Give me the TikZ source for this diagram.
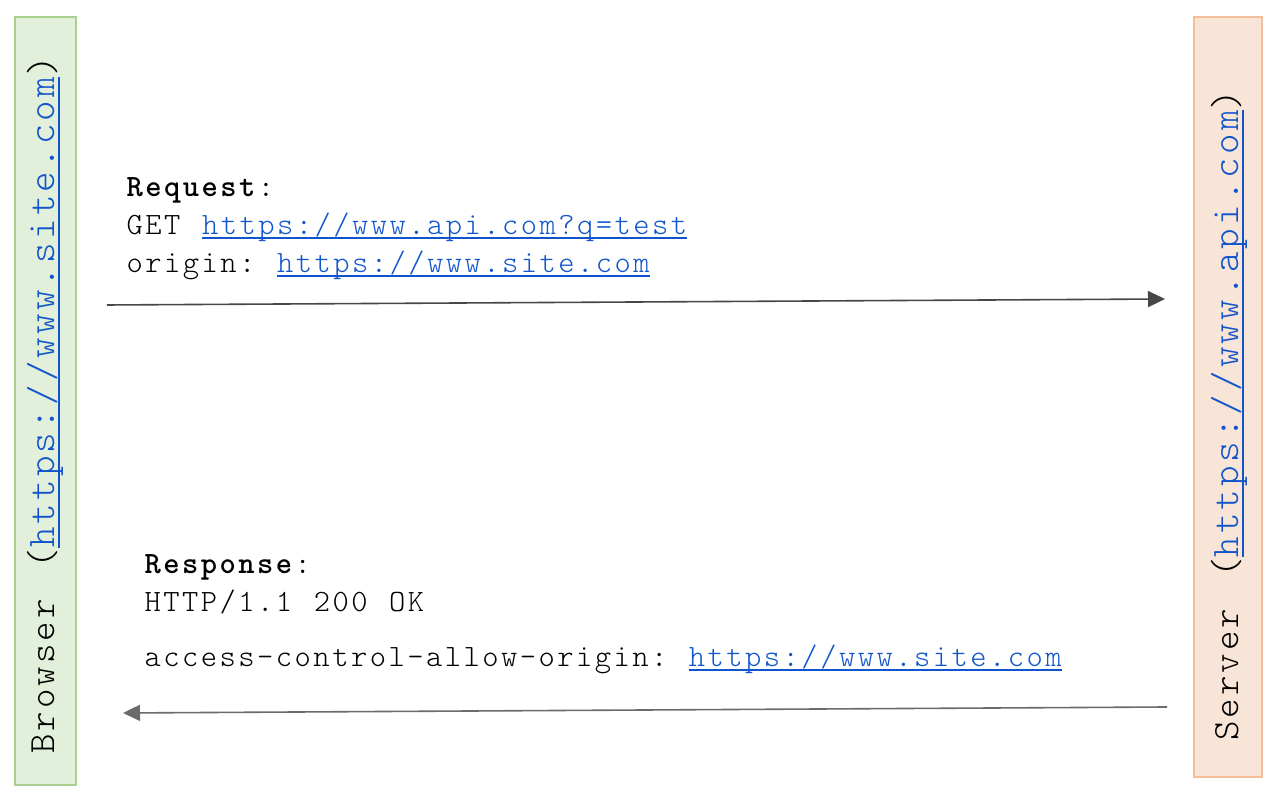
\documentclass[tikz,border=0pt]{standalone}
\usepackage{fontspec}
\newfontfamily\cour{lmmonolt10-regular}[Extension=.otf, BoldFont=lmmonolt10-bold, LetterSpace=8.0, WordSpace=1.152, PunctuationSpace=0]
\newfontfamily\courv{lmmonolt10-regular}[Extension=.otf, BoldFont=lmmonolt10-bold, LetterSpace=8.3, WordSpace=1.16, PunctuationSpace=0]
\usetikzlibrary{arrows.meta}
\definecolor{linkblue}{HTML}{1155CC}
\definecolor{brfill}{HTML}{E2EFDA}
\definecolor{brdraw}{HTML}{A9D08E}
\definecolor{svfill}{HTML}{F9E5D7}
\definecolor{svdraw}{HTML}{F4BE9A}
\newcommand\ulnk[2][4.2pt]{\textcolor{linkblue}{\setbox0\hbox{#2}\rlap{\rule[-#1]{\wd0}{1.7pt}}\box0}}
\newcommand\biglink[1]{{\fontsize{39}{46}\selectfont(\ulnk[6pt]{#1})}}
\frenchspacing
\begin{document}
\begin{tikzpicture}[x=1pt,y=1pt,
  bar/.style={draw=#1, line width=2pt, inner sep=0pt},
  hline/.style={font=\cour\fontsize{31}{37}\selectfont\frenchspacing, anchor=base west, inner sep=0pt, text=black},
  vline/.style={font=\courv\fontsize{37}{44}\selectfont\frenchspacing, anchor=base west, inner sep=0pt, rotate=90, text=black},
  msg/.style={line width=1.6pt, -{Triangle[length=17pt,width=16pt]}}]
\fill[white] (0,0) rectangle (1280,797);
\useasboundingbox (0,0) rectangle (1280,797);
% bars
\node[bar=brdraw, fill=brfill, minimum width=61pt, minimum height=768pt] (browser) at (45.5,396) {};
\node[bar=svdraw, fill=svfill, minimum width=68pt, minimum height=760pt] (server) at (1228,400) {};
% vertical labels
\node[vline] (brlabel) at (54,43) {Browser\hspace{31pt}\biglink{https://www.site.com}};
\node[vline] (svlabel) at (1238,56) {Server\hspace{31pt}\biglink{https://www.api.com}};
% request
\node[hline] (req1) at (126.5,600) {\textbf{Request}:};
\node[hline] (req2) at (126.5,562) {GET \ulnk{https://www.api.com?q=test}};
\node[hline] (req3) at (126.5,524) {origin: \ulnk{https://www.site.com}};
% response
\node[hline] (res1) at (144.5,223) {\textbf{Response}:};
\node[hline] (res2) at (144.5,185) {HTTP/1.1 200 OK};
\node[hline] (res3) at (144.5,130) {access-control-allow-origin: \ulnk{https://www.site.com}};
% arrows
\coordinate (reqStart) at (107,492);
\coordinate (reqEnd) at (1165,498);
\coordinate (resStart) at (1167,90);
\coordinate (resEnd) at (123,84);
\draw[msg, draw=black!72, fill=black!68] (reqStart) -- (reqEnd);
\draw[msg, draw=black!58, fill=black!62] (resStart) -- (resEnd);
\end{tikzpicture}
\end{document}
